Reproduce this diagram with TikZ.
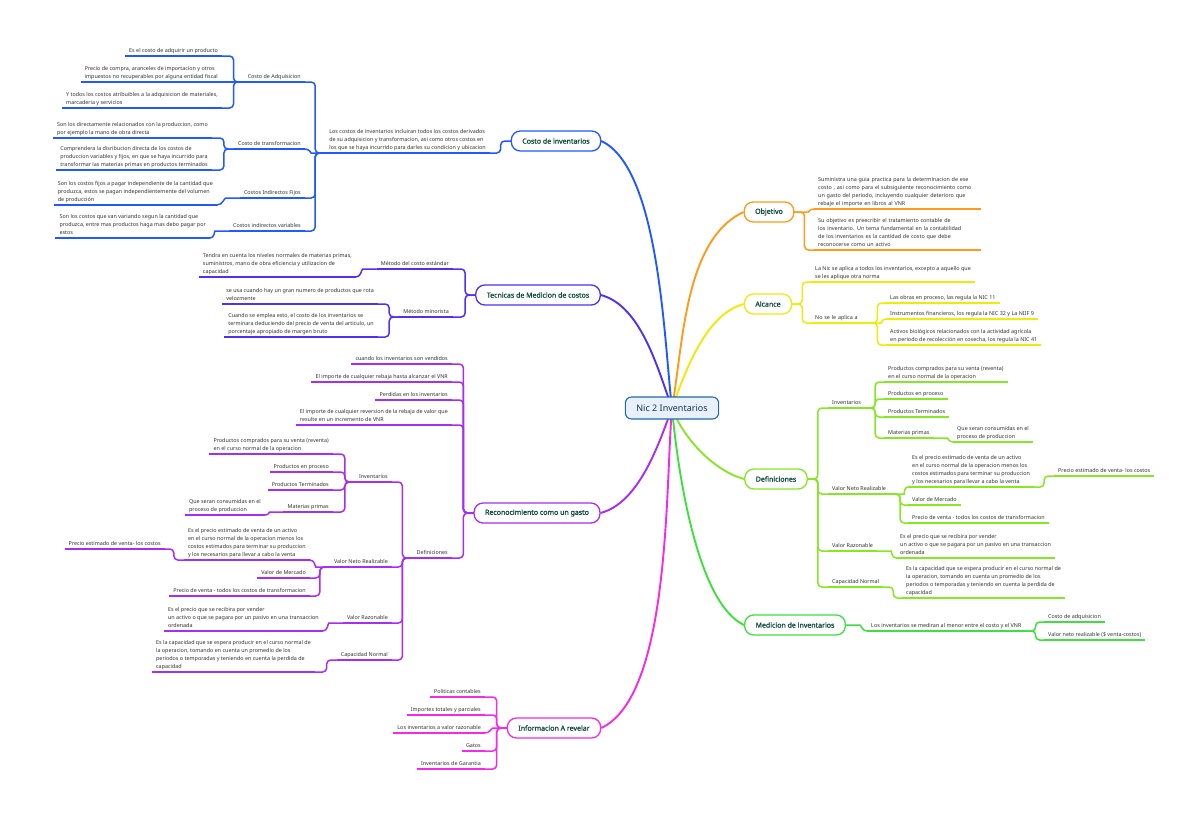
\documentclass[tikz,border=0pt]{standalone}
\usepackage{fontspec}
\setmainfont{Noto Sans}
\newfontfamily\topicfont{Noto Sans}[FakeBold=1.6]
\usetikzlibrary{backgrounds}
\definecolor{cblue}{HTML}{2158FF}
\definecolor{cindigo}{HTML}{5030F5}
\definecolor{cpurple}{HTML}{A92CF2}
\definecolor{cmagenta}{HTML}{F52AE6}
\definecolor{corange}{HTML}{FF9A1A}
\definecolor{cyellow}{HTML}{EEEA0A}
\definecolor{clime}{HTML}{86E823}
\definecolor{cgreen}{HTML}{3EE03E}
\definecolor{topictext}{HTML}{124D3D}
\definecolor{leaftext}{HTML}{333333}
\definecolor{rootfill}{HTML}{E8F1FB}
\definecolor{rootline}{HTML}{1F6AA8}
\definecolor{roottext}{HTML}{16344F}
\newcommand\leaffont{\fontsize{5.4}{7.8}\selectfont}

\begin{document}
\begin{tikzpicture}[x=1pt,y=-1pt,
  root/.style={draw=rootline,fill=rootfill,line width=1.1pt,rounded corners=6pt,inner xsep=11pt,minimum height=22pt,font=\fontsize{9}{11}\selectfont,text=roottext},
  topic/.style={draw=#1,fill=white,line width=1.3pt,rounded corners=9pt,inner xsep=11pt,minimum height=20pt,font=\topicfont\fontsize{7}{8.5}\selectfont,text=topictext},
  leaf/.style={font=\leaffont,text=leaftext,align=left,inner xsep=4pt,inner ysep=1.2pt,execute at end node={\strut},
    append after command={(\tikzlastnode.south west) edge[draw=#1,line width=1.6pt] (\tikzlastnode.south east)}},
  lleaf/.style={leaf=#1,anchor=south east},
  rleaf/.style={leaf=#1,anchor=south west},
  link/.style={draw=#1,line width=1.5pt,rounded corners=4pt,line cap=round},
  trunk/.style={draw=#1,line width=1.9pt}]
\useasboundingbox (0,0) rectangle (1200,814);

\node[root] (nic) at (672,408) {Nic 2 Inventarios};

% izquierda
\node[topic=cblue] (costinv) at (556,141) {Costo de inventarios};
\node[lleaf=cblue] (cdesc) at (490,153) {Los costos de inventarios incluiran todos los costos derivados\\de su adquisicion y transformacion, asi como otros costos en\\los que se haya incurrido para darles su condicion y ubicacion};
\node[lleaf=cblue] (cadq) at (305,82) {Costo de Adquisicion};
\node[lleaf=cblue] (ctra) at (305,149) {Costo de transformacion};
\node[lleaf=cblue] (cfij) at (305,198) {Costos Indirectos Fijos};
\node[lleaf=cblue] (cvar) at (305,231) {Costos indirectos variables};
\node[lleaf=cblue] (adq1) at (222,56) {Es el costo de adquirir un producto};
\node[lleaf=cblue] (adq2) at (222,82) {Precio de compra, aranceles de importacion y otros\\impuestos no recuperables por alguna entidad fiscal};
\node[lleaf=cblue] (adq3) at (222,108) {Y todos los costos atribuibles a la adquisicion de materiales,\\marcaderia y servicios};
\node[lleaf=cblue] (tra1) at (212,138) {Son los directamente relacionados con la produccion, como\\por ejemplo la mano de obra directa};
\node[lleaf=cblue] (tra2) at (212,170) {Comprendera la disribucion directa de los costos de\\produccion variables y fijos, en que se haya incurrido para\\transformar las materias primas en productos terminados};
\node[lleaf=cblue] (fij1) at (217,205) {Son los costos fijos a pagar independiente de la cantidad que\\produzca, estos se pagan independientemente del volumen\\de producción};
\node[lleaf=cblue] (var1) at (210,238) {Son los costos que van variando segun la cantidad que\\produzca, entre mas productos haga mas debo pagar por\\estos};

\node[topic=cindigo] (tecn) at (538,295) {Tecnicas de Medicion de costos};
\node[lleaf=cindigo] (mest) at (453,269) {Método del costo estándar};
\node[lleaf=cindigo] (mmin) at (453,317) {Método minorista};
\node[lleaf=cindigo] (est1) at (356,277) {Tendra en cuenta los niveles normales de materias primas,\\suministros, mano de obra eficiencia y utilizacion de\\capacidad};
\node[lleaf=cindigo] (min1) at (378,304) {se usa cuando hay un gran numero de productos que rota\\velozmente};
\node[lleaf=cindigo] (min2) at (378,337) {Cuando se emplea esto, el costo de los inventarios se\\terminara deduciendo del precio de venta del articulo, un\\porcentaje apropiado de margen bruto};

\node[topic=cpurple] (recon) at (537,513) {Reconocimiento como un gasto};
\node[lleaf=cpurple] (rv1) at (452,364) {cuando los inventarios son vendidos};
\node[lleaf=cpurple] (rv2) at (452,382) {El importe de cualquier rebaja hasta alcanzar el VNR};
\node[lleaf=cpurple] (rv3) at (452,400) {Perdidas en los inventarios};
\node[lleaf=cpurple] (rv4) at (452,425) {El importe de cualquier reversion de la rebaja de valor que\\resulte en un incremento de VNR};
\node[lleaf=cpurple] (rdef) at (452,558) {Definiciones};
\node[lleaf=cpurple] (rinv) at (392,482) {Inventarios};
\node[lleaf=cpurple] (rvnr) at (392,567) {Valor Neto Realizable};
\node[lleaf=cpurple] (rvr) at (392,623) {Valor Razonable};
\node[lleaf=cpurple] (rcap) at (392,660) {Capacidad Normal};
\node[lleaf=cpurple] (ri1) at (333,454) {Productos comprados para su venta (reventa)\\en el curso normal de la operacion};
\node[lleaf=cpurple] (ri2) at (333,472) {Productos en proceso};
\node[lleaf=cpurple] (ri3) at (333,490) {Productos Terminados};
\node[lleaf=cpurple] (ri4) at (333,512) {Materias primas};
\node[lleaf=cpurple] (ri4a) at (265,515) {Que seran consumidas en el\\proceso de produccion};
\node[lleaf=cpurple] (rn1) at (310,560) {Es el precio estimado de venta de un activo\\en el curso normal de la operacion menos los\\costos estimados para terminar su produccion\\y los necesarios para llevar a cabo la venta};
\node[lleaf=cpurple] (rn1a) at (165,549) {Precio estimado de venta- los costos};
\node[lleaf=cpurple] (rn2) at (310,578) {Valor de Mercado};
\node[lleaf=cpurple] (rn3) at (310,596) {Precio de venta - todos los costos de transformacion};
\node[lleaf=cpurple] (rr1) at (323,631) {Es el precio que se recibira por vender\\un activo o que se pagara por un pasivo en una transaccion\\ordenada};
\node[lleaf=cpurple] (rc1) at (315,672) {Es la capacidad que se espera producir en el curso normal de\\la operacion, tomando en cuenta un promedio de los\\periodos o temporadas y teniendo en cuenta la perdida de\\capacidad};

\node[topic=cmagenta] (info) at (554,728) {Informacion A revelar};
\node[lleaf=cmagenta] (if1) at (485,697) {Politicas contables};
\node[lleaf=cmagenta] (if2) at (485,715) {Importes totales y parciales};
\node[lleaf=cmagenta] (if3) at (485,733) {Los inventarios a valor razonable};
\node[lleaf=cmagenta] (if4) at (485,751) {Gatos};
\node[lleaf=cmagenta] (if5) at (485,769) {Inventarios de Garantia};

% derecha
\node[topic=corange] (obj) at (769,212) {Objetivo};
\node[rleaf=corange,text width=159pt] (ob1) at (814,209) {Suministra una guia practica para la determinacion de ese\\costo , asi como para el subsiguiente reconocimiento como\\un gasto del periodo, incluyendo cualquier deterioro que\\rebaje el importe en libros al VNR};
\node[rleaf=corange,text width=159pt] (ob2) at (814,250) {Su objetivo es preecribir el tratamiento contable de\\los inventario. Un tema fundamental en la contabilidad\\de los inventarios es la cantidad de costo que debe\\reconocerse como un activo};

\node[topic=cyellow] (alc) at (768,304) {Alcance};
\node[rleaf=cyellow] (al1) at (811,282) {La Nic se aplica a todos los inventarios, excepto a aquello que\\se les aplique otra norma};
\node[rleaf=cyellow,text width=48pt] (al2) at (811,323) {No se le aplica a};
\node[rleaf=cyellow] (al2a) at (886,303) {Las obras en proceso, las regula la NIC 11};
\node[rleaf=cyellow] (al2b) at (886,319) {Instrumentos financieros, los regula la NIC 32 y La NIIF 9};
\node[rleaf=cyellow] (al2c) at (886,345) {Activos biológicos relacionados con la actividad agrícola\\en periodo de recolección en cosecha, los regula la NIC 41};

\node[topic=clime] (defi) at (776,479) {Definiciones};
\node[rleaf=clime] (dinv) at (828,408) {Inventarios};
\node[rleaf=clime] (dvnr) at (828,494) {Valor Neto Realizable};
\node[rleaf=clime] (dvr) at (828,551) {Valor Razonable};
\node[rleaf=clime] (dcap) at (828,587) {Capacidad Normal};
\node[rleaf=clime] (di1) at (884,382) {Productos comprados para su venta (reventa)\\en el curso normal de la operacion};
\node[rleaf=clime] (di2) at (884,399) {Productos en proceso};
\node[rleaf=clime] (di3) at (884,417) {Productos Terminados};
\node[rleaf=clime] (di4) at (884,438) {Materias primas};
\node[rleaf=clime] (di4a) at (953,442) {Que seran consumidas en el\\proceso de produccion};
\node[rleaf=clime] (dn1) at (908,487) {Es el precio estimado de venta de un activo\\en el curso normal de la operacion menos los\\costos estimados para terminar su produccion\\y los necesarios para llevar a cabo la venta};
\node[rleaf=clime] (dn1a) at (1054,476) {Precio estimado de venta- los costos};
\node[rleaf=clime] (dn2) at (908,505) {Valor de Mercado};
\node[rleaf=clime] (dn3) at (908,523) {Precio de venta - todos los costos de transformacion};
\node[rleaf=clime] (dr1) at (896,558) {Es el precio que se recibira por vender\\un activo o que se pagara por un pasivo en una transaccion\\ordenada};
\node[rleaf=clime] (dc1) at (902,598) {Es la capacidad que se espera producir en el curso normal de\\la operacion, tomando en cuenta un promedio de los\\periodos o temporadas y teniendo en cuenta la perdida de\\capacidad};

\node[topic=cgreen] (medi) at (795,625) {Medicion de inventarios};
\node[rleaf=cgreen] (md1) at (867,631) {Los inventarios se mediran al menor entre el costo y el VNR};
\node[rleaf=cgreen] (md1a) at (1044,622) {Costo de adquisicion};
\node[rleaf=cgreen] (md1b) at (1044,640) {Valor neto realizable (\$ venta-costos)};

% ramas
\draw[link=cblue] (costinv.west) -- ++(-10,0) |- (cdesc.south east);
\foreach \n in {cadq,cfij,cvar} \draw[link=cblue] (cdesc.south west) -- ++(-10,0) |- (\n.south east);
\draw[link=cblue] (cdesc.south west) -- ++(-10,0) to[out=180,in=0] (ctra.south east);
\foreach \n in {adq1,adq3} \draw[link=cblue] (cadq.south west) -- ++(-10,0) |- (\n.south east);
\draw[link=cblue] (cadq.south west) -- (adq2.south east);
\foreach \n in {tra1,tra2} \draw[link=cblue] (ctra.south west) -- ++(-10,0) |- (\n.south east);
\draw[link=cblue] (cfij.south west) -- ++(-10,0) to[out=180,in=0] (fij1.south east);
\draw[link=cblue] (cvar.south west) -- ++(-10,0) to[out=180,in=0] (var1.south east);

\foreach \n in {mest,mmin} \draw[link=cindigo] (tecn.west) -- ++(-10,0) |- (\n.south east);
\draw[link=cindigo] (mest.south west) -- ++(-10,0) to[out=180,in=0] (est1.south east);
\foreach \n in {min1,min2} \draw[link=cindigo] (mmin.south west) -- ++(-10,0) |- (\n.south east);

\foreach \n in {rv1,rv2,rv3,rv4,rdef} \draw[link=cpurple] (recon.west) -- ++(-10,0) |- (\n.south east);
\foreach \n in {rinv,rvnr,rvr,rcap} \draw[link=cpurple] (rdef.south west) -- ++(-10,0) |- (\n.south east);
\foreach \n in {ri1,ri2,ri3,ri4} \draw[link=cpurple] (rinv.south west) -- ++(-10,0) |- (\n.south east);
\draw[link=cpurple] (ri4.south west) -- ++(-10,0) to[out=180,in=0] (ri4a.south east);
\draw[link=cpurple] (rvnr.south west) -- ++(-10,0) to[out=180,in=0] (rn1.south east);
\foreach \n in {rn2,rn3} \draw[link=cpurple] (rvnr.south west) -- ++(-10,0) |- (\n.south east);
\draw[link=cpurple] (rn1.south west) -- ++(-10,0) |- (rn1a.south east);
\draw[link=cpurple] (rvr.south west) -- ++(-10,0) to[out=180,in=0] (rr1.south east);
\draw[link=cpurple] (rcap.south west) -- ++(-10,0) |- (rc1.south east);

\foreach \n in {if1,if2,if4,if5} \draw[link=cmagenta] (info.west) -- ++(-10,0) |- (\n.south east);
\draw[link=cmagenta] (info.west) -- ++(-10,0) to[out=180,in=0] (if3.south east);

\draw[link=corange] (obj.east) -- ++(10,0) to[out=0,in=180] (ob1.south west);
\draw[link=corange] (obj.east) -- ++(10,0) |- (ob2.south west);

\foreach \n in {al1,al2} \draw[link=cyellow] (alc.east) -- ++(10,0) |- (\n.south west);
\foreach \n in {al2a,al2c} \draw[link=cyellow] (al2.south east) -- ++(10,0) |- (\n.south west);
\draw[link=cyellow] (al2.south east) -- ++(10,0) to[out=0,in=180] (al2b.south west);

\foreach \n in {dinv,dvnr,dvr,dcap} \draw[link=clime] (defi.east) -- ++(10,0) |- (\n.south west);
\foreach \n in {di1,di2,di3,di4} \draw[link=clime] (dinv.south east) -- ++(10,0) |- (\n.south west);
\draw[link=clime] (di4.south east) -- ++(10,0) to[out=0,in=180] (di4a.south west);
\draw[link=clime] (dvnr.south east) -- ++(10,0) to[out=0,in=180] (dn1.south west);
\foreach \n in {dn2,dn3} \draw[link=clime] (dvnr.south east) -- ++(10,0) |- (\n.south west);
\draw[link=clime] (dn1.south east) -- ++(10,0) |- (dn1a.south west);
\draw[link=clime] (dvr.south east) -- ++(10,0) to[out=0,in=180] (dr1.south west);
\draw[link=clime] (dcap.south east) -- ++(10,0) |- (dc1.south west);

\draw[link=cgreen] (medi.east) -- ++(10,0) to[out=0,in=180] (md1.south west);
\foreach \n in {md1a,md1b} \draw[link=cgreen] (md1.south east) -- ++(10,0) |- (\n.south west);

\begin{scope}[on background layer]
\fill[white] (0,0) rectangle (1200,814);
\draw[trunk=cblue] (nic.center) to[out=97,in=-25,looseness=0.6] (costinv.east);
\draw[trunk=cindigo] (nic.center) to[out=110,in=-15,looseness=0.8] (tecn.east);
\draw[trunk=cpurple] (nic.center) to[out=-110,in=15,looseness=0.8] (recon.east);
\draw[trunk=cmagenta] (nic.center) to[out=-95,in=25,looseness=0.6] (info.east);
\draw[trunk=corange] (nic.center) to[out=80,in=205,looseness=0.8] (obj.west);
\draw[trunk=cyellow] (nic.center) to[out=70,in=195,looseness=0.8] (alc.west);
\draw[trunk=clime] (nic.center) to[out=-70,in=165,looseness=0.8] (defi.west);
\draw[trunk=cgreen] (nic.center) to[out=-85,in=155,looseness=0.6] (medi.west);
\end{scope}
\end{tikzpicture}
\end{document}
